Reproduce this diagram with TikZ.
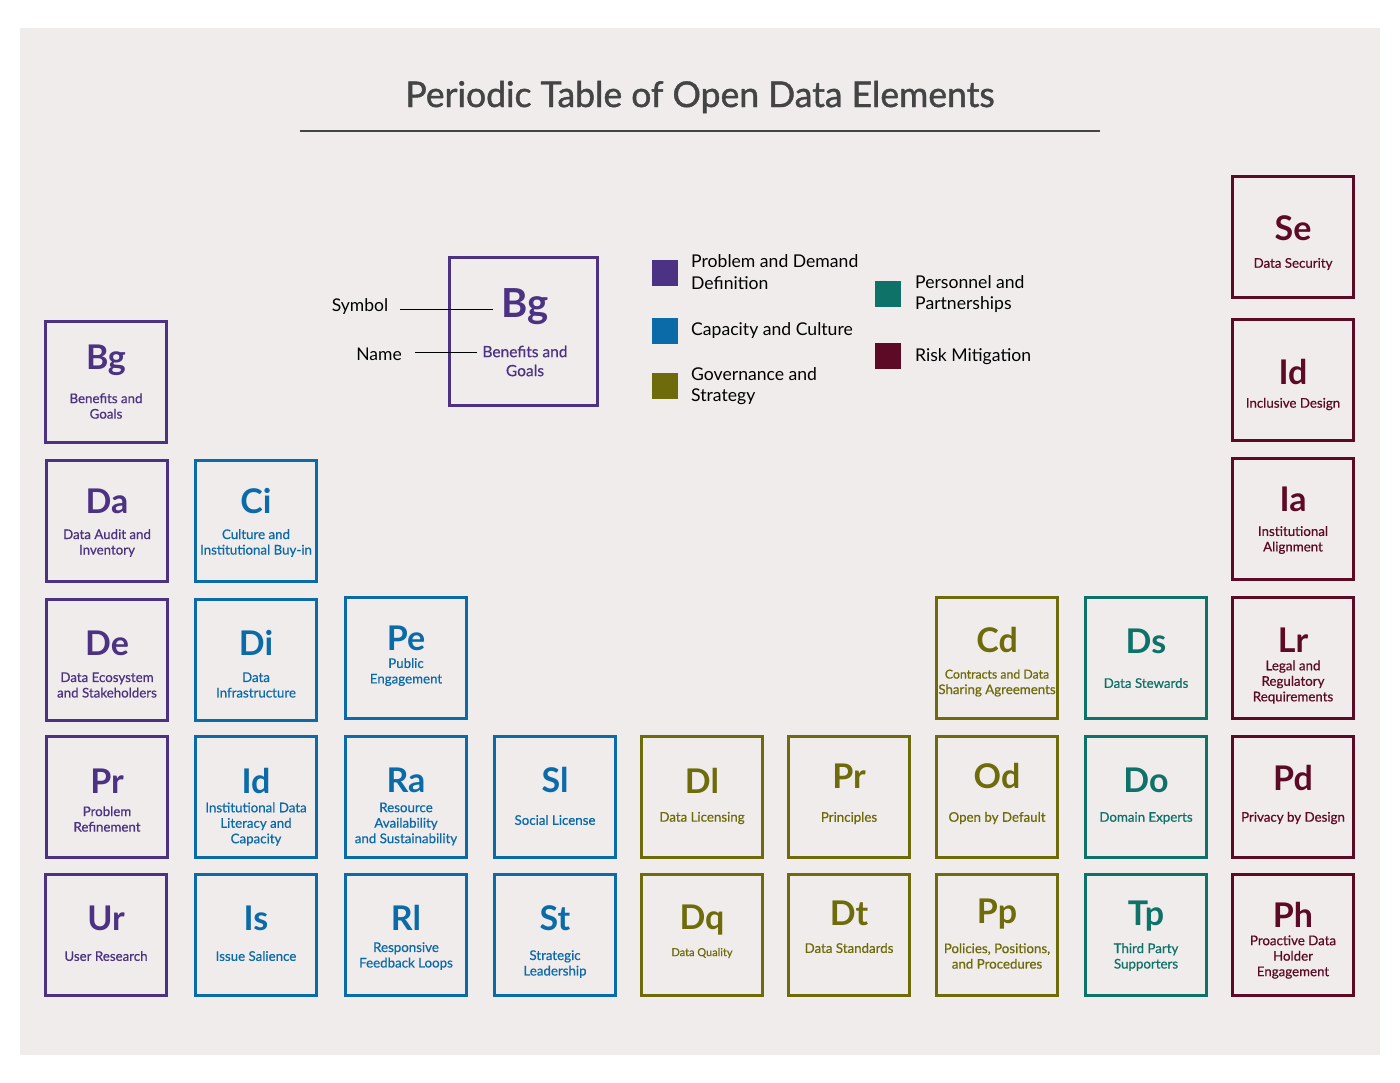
\documentclass[tikz,border=0pt]{standalone}
\usepackage{fontspec}
\setmainfont{Lato}
\newfontface\medf{Lato}[FakeBold=0.6]
\newfontface\semf{Lato}[FakeBold=1.2]
\definecolor{bgc}{HTML}{F1ECEC}
\definecolor{cP}{HTML}{4B3282}
\definecolor{cB}{HTML}{0B6AA8}
\definecolor{cO}{HTML}{6E6B0A}
\definecolor{cT}{HTML}{0F7268}
\definecolor{cM}{HTML}{5C0A25}
\definecolor{ink}{HTML}{444444}
\tikzset{
  tile/.style={draw=#1,line width=3pt,minimum size=121pt,inner sep=0pt},
  sym/.style={text=#1,font=\fontsize{34}{36}\selectfont\bfseries,inner sep=0pt},
  nm/.style={text=#1,font=\medf\fontsize{13.3}{15.5}\selectfont,align=center,inner sep=0pt},
  leg/.style={font=\fontsize{17.6}{21.5}\selectfont,align=left,anchor=west,inner sep=0pt,text=black},
  sq/.style={fill=#1,minimum size=26pt,inner sep=0pt}
}
\newcommand\tl[8]{%
  \node[tile=#3] (#4) at (#1,#2) {};
  \node[sym=#3] (#4s) at (#1,#6) {#5};
  \node[nm=#3] (#4n) at (#1,#7) {#8};}
\begin{document}
\begin{tikzpicture}[x=1pt,y=-1pt]
\useasboundingbox (0,0) rectangle (1400,1082);
\fill[white] (0,0) rectangle (1400,1082);
\fill[bgc] (20,28) rectangle (1380,1055);
\node[text=ink,font=\semf\fontsize{35.5}{38}\selectfont,inner sep=0pt] (title) at (700,97) {Periodic Table of Open Data Elements};
\coordinate (tl1) at (300,131); \coordinate (tl2) at (1100,131);
\draw[ink,line width=1.5pt] (tl1) -- (tl2);
% key tile
\node[draw=cP,line width=3pt,minimum size=148pt,inner sep=0pt] (key) at (523.5,331) {};
\node[sym=cP,font=\fontsize{40}{42}\selectfont\bfseries] (keys) at (525,307) {Bg};
\node[nm=cP,font=\medf\fontsize{15.5}{19}\selectfont] (keyn) at (525,361) {Benefits and\\Goals};
\node[font=\fontsize{17.5}{20}\selectfont,inner sep=0pt] (lsym) at (360,307) {Symbol};
\node[font=\fontsize{17.5}{20}\selectfont,inner sep=0pt] (lname) at (379,354) {Name};
\coordinate (a1) at (400,309); \coordinate (a2) at (493,309);
\coordinate (b1) at (415,352); \coordinate (b2) at (477,352);
\draw[line width=1pt] (a1) -- (a2);
\draw[line width=1pt] (b1) -- (b2);
% legend
\node[sq=cP] (s1) at (665,273) {};
\node[sq=cB] (s2) at (665,331) {};
\node[sq=cO] (s3) at (665,386) {};
\node[sq=cT] (s4) at (888,294) {};
\node[sq=cM] (s5) at (888,356) {};
\node[leg] (l1) at (691,272) {Problem and Demand\\Definition};
\node[leg] (l2) at (691,331) {Capacity and Culture};
\node[leg] (l3) at (691,386) {Governance and\\Strategy};
\node[leg] (l4) at (915,294) {Personnel and\\Partnerships};
\node[leg] (l5) at (915,357) {Risk Mitigation};
% column 1
\tl{106}{382}{cP}{a1r1}{Bg}{360}{406}{Benefits and\\Goals}
\tl{107}{521}{cP}{a1r2}{Da}{501}{543}{Data Audit and\\Inventory}
\tl{107}{660}{cP}{a1r3}{De}{643}{685}{Data Ecosystem\\and Stakeholders}
\tl{107}{797}{cP}{a1r4}{Pr}{781}{819}{Problem\\Refinement}
\tl{106}{935}{cP}{a1r5}{Ur}{918}{956}{User Research}
% column 2
\tl{256}{521}{cB}{a2r2}{Ci}{501}{543}{Culture and\\Institutional Buy-in}
\tl{256}{660}{cB}{a2r3}{Di}{643}{685}{Data\\Infrastructure}
\tl{256}{797}{cB}{a2r4}{Id}{781}{824}{Institutional Data\\Literacy and\\Capacity}
\tl{256}{935}{cB}{a2r5}{Is}{918}{956}{Issue Salience}
% column 3
\tl{406}{658}{cB}{a3r3}{Pe}{638}{672}{Public\\Engagement}
\tl{406}{797}{cB}{a3r4}{Ra}{780}{824}{Resource\\Availability\\and Sustainability}
\tl{406}{935}{cB}{a3r5}{Rl}{918}{956}{Responsive\\Feedback Loops}
% column 4
\tl{555}{797}{cB}{a4r4}{Sl}{780}{820}{Social License}
\tl{555}{935}{cB}{a4r5}{St}{918}{964}{Strategic\\Leadership}
% column 5
\tl{702}{797}{cO}{a5r4}{Dl}{781}{818}{Data Licensing}
\tl{702}{935}{cO}{a5r5}{Dq}{920}{953}{\fontsize{11}{13}\selectfont Data Quality}
% column 6
\tl{849}{797}{cO}{a6r4}{Pr}{776}{818}{Principles}
\tl{849}{935}{cO}{a6r5}{Dt}{913}{948}{Data Standards}
% column 7
\tl{997}{658}{cO}{a7r3}{Cd}{640}{683}{\fontsize{12.3}{15.5}\selectfont Contracts and Data\\Sharing Agreements}
\tl{997}{797}{cO}{a7r4}{Od}{776}{818}{Open by Default}
\tl{997}{935}{cO}{a7r5}{Pp}{914}{956}{Policies, Positions,\\and Procedures}
% column 8
\tl{1146}{658}{cT}{a8r3}{Ds}{641}{683}{Data Stewards}
\tl{1146}{797}{cT}{a8r4}{Do}{780}{818}{Domain Experts}
\tl{1146}{935}{cT}{a8r5}{Tp}{916}{957}{Third Party\\Supporters}
% column 9
\tl{1293}{237}{cM}{a9r0}{Se}{228}{264}{Data Security}
\tl{1293}{380}{cM}{a9r1}{Id}{372}{404}{Inclusive Design}
\tl{1293}{519}{cM}{a9r2}{Ia}{499}{540}{Institutional\\Alignment}
\tl{1293}{658}{cM}{a9r3}{Lr}{640}{682}{Legal and\\Regulatory\\Requirements}
\tl{1293}{797}{cM}{a9r4}{Pd}{778}{818}{Privacy by Design}
\tl{1293}{935}{cM}{a9r5}{Ph}{915}{957}{Proactive Data\\Holder\\Engagement}
\end{tikzpicture}
\end{document}
